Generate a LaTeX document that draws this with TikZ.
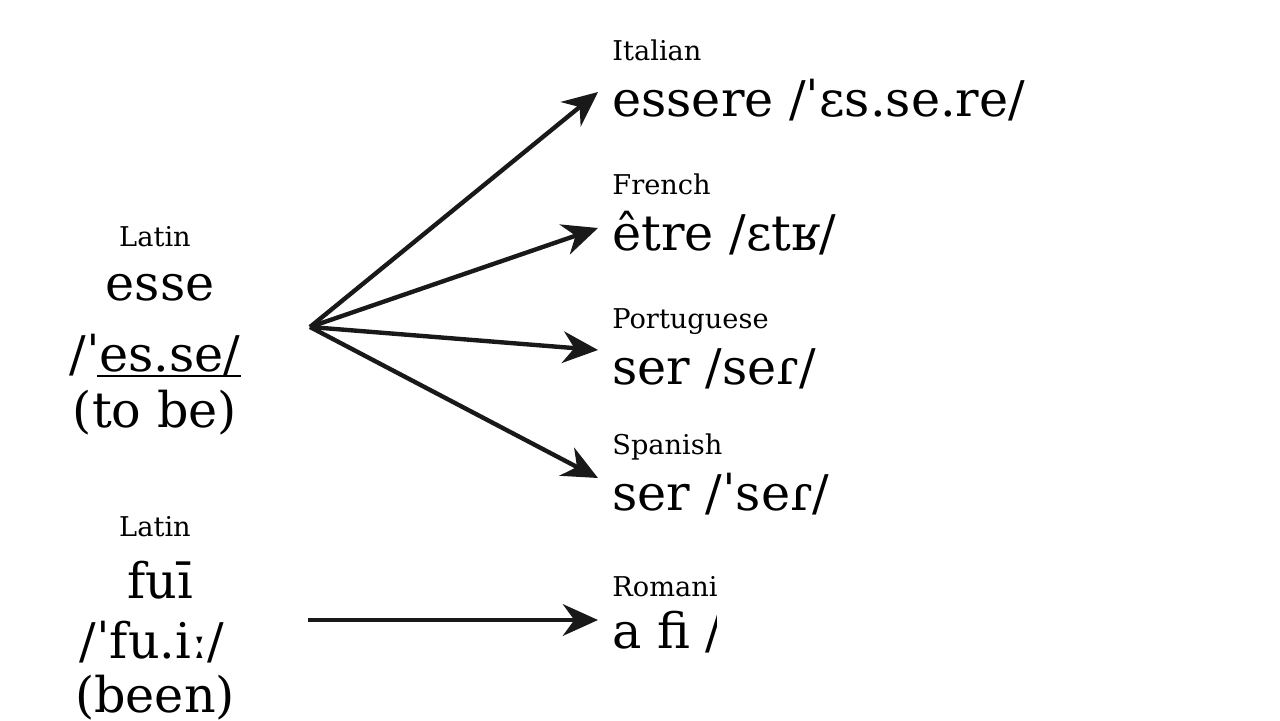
\documentclass[tikz,border=0pt]{standalone}
\usepackage{fontspec}
\setmainfont{DejaVu Serif}
\usetikzlibrary{arrows.meta}
\begin{document}
\begin{tikzpicture}[x=0.02cm,y=-0.02cm,
  lab/.style={font=\fontsize{15.5}{18}\selectfont, inner sep=0pt},
  big/.style={font=\fontsize{28}{32}\selectfont, inner sep=0pt},
  arr/.style={line width=2.5pt, draw=black!90, -{Stealth[length=20pt,width=18pt]}}]
\useasboundingbox (0,0) rectangle (1280,720);
% left
\node[lab] (l1) at (155,237) {Latin};
\node[big] (w1) at (160,288) {esse};
\node[big] (p1) at (155,355) {/ˈes.se/};
\draw[line width=0.6pt] (97,376) -- (241,376);
\node[big] (m1) at (155,413) {(to be)};
\node[lab] (l2) at (155,527) {Latin};
\node[big] (w2) at (160,580) {fuī};
\node[big] (p2) at (152,642) {/ˈfu.iː/};
\node[big] (m2) at (155,698) {(been)};
\coordinate (s1) at (310,327);
\coordinate (s2) at (308,620);
% right
\node[lab,anchor=mid west] (li) at (612,56) {Italian};
\node[big,anchor=mid west] (it) at (612,112) {essere /ˈɛs.se.re/};
\node[lab,anchor=mid west] (lf) at (612,190) {French};
\node[big,anchor=mid west] (fr) at (612,246) {être /ɛtʁ/};
\node[lab,anchor=mid west] (lp) at (612,324) {Portuguese};
\node[big,anchor=mid west] (pt) at (612,380) {ser /seɾ/};
\node[lab,anchor=mid west] (ls) at (612,450) {Spanish};
\node[big,anchor=mid west] (es) at (612,506) {ser /ˈseɾ/};
\begin{scope}
\clip (600,560) rectangle (716,680);
\node[lab,anchor=mid west] (lr) at (612,592) {Romanian};
\node[big,anchor=mid west] (ro) at (612,644) {a fi /ˈa fi/};
\end{scope}
\draw[arr] (s1) -- (598,92);
\draw[arr] (s1) -- (598,228);
\draw[arr] (s1) -- (598,350);
\draw[arr] (s1) -- (598,478);
\draw[arr] (s2) -- (598,620);
\end{tikzpicture}
\end{document}
